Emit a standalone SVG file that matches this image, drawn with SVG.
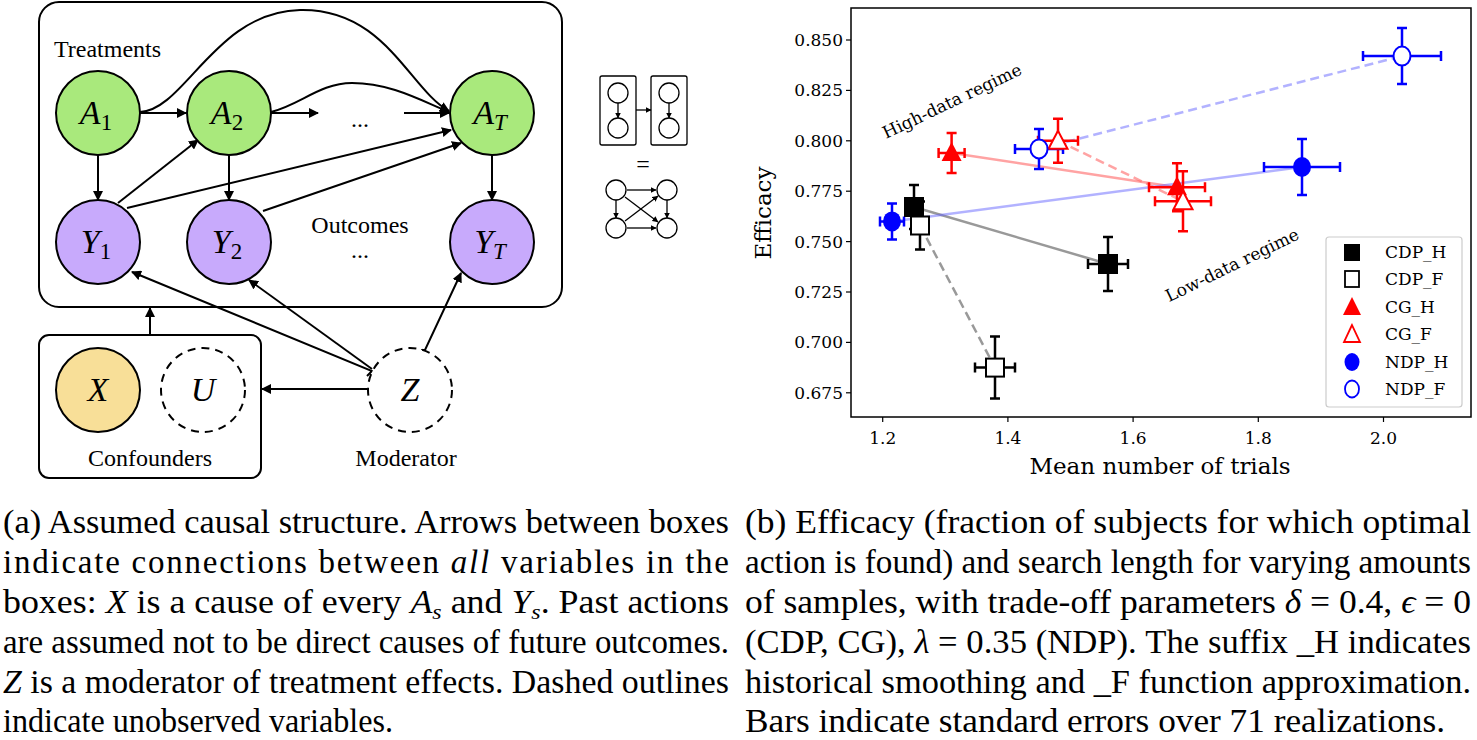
<svg xmlns="http://www.w3.org/2000/svg" width="1477" height="740" viewBox="0 0 1477 740">
<style>
.bx{fill:none;stroke:#000;stroke-width:2}
.n{stroke:#000;stroke-width:2}
.A{fill:#a9e97c}.Y{fill:#c8aafc}.X{fill:#f8df98}.D{fill:#fff;stroke-dasharray:8 6}
.lbl{font-family:"Liberation Serif","Times New Roman",Times,serif;font-style:italic;font-size:34px;text-anchor:middle}
.sub{font-size:23px;font-style:normal}
.tx{font-family:"Liberation Serif","Times New Roman",Times,serif;font-size:24px}
.e{stroke:#000;stroke-width:2;fill:none}
.s{stroke:#000;stroke-width:1.3;fill:none}
.tk{font-family:"DejaVu Serif",serif;font-size:17px}
.ax{font-family:"DejaVu Serif",serif;font-size:23px;text-anchor:middle}
.cap{font-family:"Liberation Serif","Times New Roman",Times,serif;font-size:33px}
.k{stroke:#000;stroke-width:2.5;fill:none}.r{stroke:#f00;stroke-width:2.5;fill:none}.b{stroke:#00f;stroke-width:2.5;fill:none}
</style>
<defs>
<marker id="ar" markerWidth="10" markerHeight="10" refX="9" refY="5" orient="auto" markerUnits="userSpaceOnUse"><path d="M0,0 L10,5 L0,10 z"/></marker>
<marker id="as" markerWidth="6" markerHeight="6" refX="5.5" refY="3" orient="auto" markerUnits="userSpaceOnUse"><path d="M0,0 L6,3 L0,6 z"/></marker>
</defs>
<rect fill="#fff" width="1477" height="740"/>

<rect id="treatbox" class="bx" x="39" y="2" width="523" height="305" rx="20"/>
<rect id="confbox" class="bx" x="39" y="335" width="222" height="143" rx="10"/>
<text class="tx" x="54" y="57">Treatments</text>
<text class="tx" x="360" y="233" text-anchor="middle">Outcomes</text>
<text class="tx" x="360" y="127" text-anchor="middle">...</text>
<text class="tx" x="360" y="258" text-anchor="middle">...</text>
<text class="tx" x="150" y="466" text-anchor="middle">Confounders</text>
<text class="tx" x="406" y="466" text-anchor="middle">Moderator</text>

<g id="connectors">
<path class="e" marker-end="url(#ar)" d="M140,112 C185,110 215,12 300,10 C385,8 410,90 449,111"/>
<path class="e" marker-end="url(#ar)" d="M271,112 C300,105 320,83 352,83 C390,83 420,100 449,112"/>
<line class="e" marker-end="url(#ar)" x1="140" y1="113" x2="186" y2="113"/>
<line class="e" marker-end="url(#ar)" x1="271" y1="113" x2="318" y2="113"/>
<line class="e" marker-end="url(#ar)" x1="404" y1="113" x2="449" y2="113"/>
<line class="e" marker-end="url(#ar)" x1="98" y1="155" x2="98" y2="200"/>
<line class="e" marker-end="url(#ar)" x1="229" y1="155" x2="229" y2="200"/>
<line class="e" marker-end="url(#ar)" x1="492" y1="155" x2="492" y2="200"/>
<line class="e" marker-end="url(#ar)" x1="118" y1="203" x2="198" y2="140"/>
<line class="e" marker-end="url(#ar)" x1="127" y1="208" x2="451" y2="130"/>
<line class="e" marker-end="url(#ar)" x1="263" y1="211" x2="461" y2="143"/>
<line class="e" marker-end="url(#ar)" x1="150" y1="335" x2="150" y2="308"/>
<line class="e" marker-end="url(#ar)" x1="367" y1="389" x2="262" y2="389"/>
<polyline class="e" marker-end="url(#ar)" points="367,376 372,371 132,272"/>
<line class="e" marker-end="url(#ar)" x1="372" y1="369" x2="249" y2="280"/>
<polyline class="e" marker-end="url(#ar)" points="421,350 425,350 461,273"/>
<line class="s" marker-end="url(#as)" x1="618" y1="103" x2="618" y2="118"/>
<line class="s" marker-end="url(#as)" x1="669" y1="103" x2="669" y2="118"/>
<line class="s" marker-end="url(#as)" x1="636" y1="110" x2="651" y2="110"/>
<line class="s" marker-end="url(#as)" x1="627" y1="190" x2="656" y2="190"/>
<line class="s" marker-end="url(#as)" x1="627" y1="228" x2="656" y2="228"/>
<line class="s" marker-end="url(#as)" x1="616" y1="200" x2="616" y2="218"/>
<line class="s" marker-end="url(#as)" x1="667" y1="200" x2="667" y2="218"/>
<line class="s" marker-end="url(#as)" x1="625" y1="197" x2="658" y2="222"/>
<line class="s" marker-end="url(#as)" x1="625" y1="221" x2="658" y2="196"/>
</g>

<g id="A1"><circle class="n A" cx="98" cy="113" r="42"/><text class="lbl" x="96" y="124">A<tspan class="sub" dy="6">1</tspan></text></g>
<g id="A2"><circle class="n A" cx="229" cy="113" r="42"/><text class="lbl" x="227" y="124">A<tspan class="sub" dy="6">2</tspan></text></g>
<g id="AT"><circle class="n A" cx="492" cy="113" r="42"/><text class="lbl" x="490" y="124">A<tspan class="sub" style="font-style:italic" dy="6">T</tspan></text></g>
<g id="Y1"><circle class="n Y" cx="98" cy="242" r="42"/><text class="lbl" x="96" y="253">Y<tspan class="sub" dy="6">1</tspan></text></g>
<g id="Y2"><circle class="n Y" cx="229" cy="242" r="42"/><text class="lbl" x="227" y="253">Y<tspan class="sub" dy="6">2</tspan></text></g>
<g id="YT"><circle class="n Y" cx="492" cy="242" r="42"/><text class="lbl" x="490" y="253">Y<tspan class="sub" style="font-style:italic" dy="6">T</tspan></text></g>
<g id="X"><circle class="n X" cx="98" cy="390" r="42"/><text class="lbl" x="98" y="401">X</text></g>
<g id="U"><circle class="n D" cx="203" cy="390" r="42"/><text class="lbl" x="203" y="401">U</text></g>
<g id="Z"><circle class="n D" cx="410" cy="390" r="42"/><text class="lbl" x="410" y="401">Z</text></g>

<g id="icon">
<rect class="s" x="600" y="76" width="36" height="69" rx="2"/>
<rect class="s" x="651" y="76" width="36" height="69" rx="2"/>
<circle class="s" cx="618" cy="93" r="10"/>
<circle class="s" cx="618" cy="128" r="10"/>
<circle class="s" cx="669" cy="93" r="10"/>
<circle class="s" cx="669" cy="128" r="10"/>
<text class="tx" x="643" y="172" text-anchor="middle" font-size="20">=</text>
<circle class="s" cx="616" cy="190" r="10"/>
<circle class="s" cx="667" cy="190" r="10"/>
<circle class="s" cx="616" cy="228" r="10"/>
<circle class="s" cx="667" cy="228" r="10"/>
</g>

<g id="plot">
<rect x="851" y="8" width="620" height="409" fill="none" stroke="#000" stroke-width="1.5"/>
<g stroke="#000" stroke-width="1.2">
<line x1="846" y1="40" x2="851" y2="40"/><line x1="846" y1="90.4" x2="851" y2="90.4"/><line x1="846" y1="140.8" x2="851" y2="140.8"/><line x1="846" y1="191.2" x2="851" y2="191.2"/><line x1="846" y1="241.6" x2="851" y2="241.6"/><line x1="846" y1="292" x2="851" y2="292"/><line x1="846" y1="342.4" x2="851" y2="342.4"/><line x1="846" y1="392.8" x2="851" y2="392.8"/>
<line x1="882.7" y1="417" x2="882.7" y2="422"/><line x1="1007.9" y1="417" x2="1007.9" y2="422"/><line x1="1133.1" y1="417" x2="1133.1" y2="422"/><line x1="1258.3" y1="417" x2="1258.3" y2="422"/><line x1="1383.5" y1="417" x2="1383.5" y2="422"/>
</g>
<g class="tk" text-anchor="end">
<text x="843" y="46">0.850</text><text x="843" y="96.4">0.825</text><text x="843" y="146.8">0.800</text><text x="843" y="197.2">0.775</text><text x="843" y="247.6">0.750</text><text x="843" y="298">0.725</text><text x="843" y="348.4">0.700</text><text x="843" y="398.8">0.675</text>
</g>
<g class="tk" text-anchor="middle">
<text x="882.7" y="444">1.2</text><text x="1007.9" y="444">1.4</text><text x="1133.1" y="444">1.6</text><text x="1258.3" y="444">1.8</text><text x="1383.5" y="444">2.0</text>
</g>
<text class="ax" x="1160" y="474">Mean number of trials</text>
<text class="ax" transform="translate(771,213) rotate(-90)">Efficacy</text>
<text class="tk" x="952" y="107" text-anchor="middle" transform="rotate(-25.5 952 101)">High-data regime</text>
<text class="tk" x="1232" y="271" text-anchor="middle" transform="rotate(-26 1232 265)">Low-data regime</text>

<g stroke-width="2.5">
<line x1="914" y1="207" x2="1108" y2="264" stroke="#999"/>
<line x1="920" y1="225.5" x2="995" y2="367.6" stroke="#999" stroke-dasharray="9 5"/>
<line x1="951.6" y1="152.9" x2="1177" y2="187.2" stroke="#f66" stroke-opacity="0.6"/>
<line x1="1058" y1="140.8" x2="1183" y2="201.3" stroke="#f66" stroke-opacity="0.6" stroke-dasharray="9 5"/>
<line x1="892" y1="221.4" x2="1302" y2="167" stroke="#66f" stroke-opacity="0.5"/>
<line x1="1039" y1="148.9" x2="1402" y2="56.1" stroke="#66f" stroke-opacity="0.5" stroke-dasharray="9 5"/>
</g>

<path class="k" d="M914,185V229M906,207H922M909,185H919M909,229H919"/>
<path class="k" d="M1108,237V291M1088,264H1128M1103,237H1113M1103,291H1113M1088,259V269M1128,259V269"/>
<path class="k" d="M920,201.5V249.5M914,225.5H926M915,201.5H925M915,249.5H925"/>
<path class="k" d="M995,336.6V398.6M975,367.6H1015M990,336.6H1000M990,398.6H1000M975,362.6V372.6M1015,362.6V372.6"/>
<path class="r" d="M951.6,132.9V172.9M938.6,152.9H964.6M946.6,132.9H956.6M946.6,172.9H956.6M938.6,147.9V157.9M964.6,147.9V157.9"/>
<path class="r" d="M1177,163.2V211.2M1149,187.2H1205M1172,163.2H1182M1172,211.2H1182M1149,182.2V192.2M1205,182.2V192.2"/>
<path class="r" d="M1058,118.8V162.8M1038,140.8H1078M1053,118.8H1063M1053,162.8H1063M1038,135.8V145.8M1078,135.8V145.8"/>
<path class="r" d="M1183,171.3V231.3M1155,201.3H1211M1178,171.3H1188M1178,231.3H1188M1155,196.3V206.3M1211,196.3V206.3"/>
<path class="b" d="M892,203.4V239.4M880,221.4H904M887,203.4H897M887,239.4H897M880,216.4V226.4M904,216.4V226.4"/>
<path class="b" d="M1302,139V195M1264,167H1340M1297,139H1307M1297,195H1307M1264,162V172M1340,162V172"/>
<path class="b" d="M1039,128.9V168.9M1015,148.9H1063M1034,128.9H1044M1034,168.9H1044M1015,143.9V153.9M1063,143.9V153.9"/>
<path class="b" d="M1402,28V84M1363,56H1441M1397,28H1407M1397,84H1407M1363,51V61M1441,51V61"/>

<rect x="904" y="197" width="20" height="20" fill="#000"/>
<rect x="1098" y="254" width="20" height="20" fill="#000"/>
<rect x="911" y="216.5" width="18" height="18" fill="#fff" stroke="#000" stroke-width="2"/>
<rect x="986" y="358.6" width="18" height="18" fill="#fff" stroke="#000" stroke-width="2"/>
<polygon points="951.6,141.9 941.6,160.9 961.6,160.9" fill="#f00"/>
<polygon points="1177,176.2 1167,195.2 1187,195.2" fill="#f00"/>
<polygon points="1058,130.8 1048.5,148.8 1067.5,148.8" fill="#fff" stroke="#f00" stroke-width="2"/>
<polygon points="1183,191.3 1173.5,209.3 1192.5,209.3" fill="#fff" stroke="#f00" stroke-width="2"/>
<ellipse cx="892" cy="221.4" rx="9" ry="10" fill="#00f"/>
<ellipse cx="1302" cy="167" rx="9" ry="10" fill="#00f"/>
<ellipse cx="1039" cy="148.9" rx="8.5" ry="9.5" fill="#fff" stroke="#00f" stroke-width="2"/>
<ellipse cx="1402" cy="56.1" rx="8.5" ry="9.5" fill="#fff" stroke="#00f" stroke-width="2"/>

<rect x="1326" y="237" width="136" height="170" rx="3" fill="#fff" stroke="#ccc" stroke-width="1.2"/>
<rect x="1344" y="244" width="16" height="17" fill="#000"/>
<rect x="1345" y="271" width="14" height="16" fill="#fff" stroke="#000" stroke-width="1.8"/>
<polygon points="1352,297 1343,315 1361,315" fill="#f00"/>
<polygon points="1352,325 1344,342 1360,342" fill="#fff" stroke="#f00" stroke-width="1.8"/>
<ellipse cx="1352" cy="362" rx="7.5" ry="9" fill="#00f"/>
<ellipse cx="1352" cy="389" rx="7" ry="8.5" fill="#fff" stroke="#00f" stroke-width="1.8"/>
<g class="tk" font-size="18">
<text x="1385" y="258">CDP_H</text><text x="1385" y="285">CDP_F</text><text x="1385" y="313">CG_H</text><text x="1385" y="340">CG_F</text><text x="1385" y="368">NDP_H</text><text x="1385" y="395">NDP_F</text>
</g>
</g>

<g class="cap">
<text x="3" y="533" textLength="726" lengthAdjust="spacingAndGlyphs">(a) Assumed causal structure.  Arrows between boxes</text>
<text x="3" y="573" textLength="726" lengthAdjust="spacing">indicate connections between <tspan font-style="italic">all</tspan> variables in the</text>
<text x="3" y="613" textLength="726" lengthAdjust="spacingAndGlyphs">boxes: <tspan font-style="italic">X</tspan> is a cause of every <tspan font-style="italic">A<tspan font-size="22" dy="6">s</tspan></tspan><tspan dy="-6"> and </tspan><tspan font-style="italic">Y<tspan font-size="22" dy="6">s</tspan></tspan><tspan dy="-6">. Past actions</tspan></text>
<text x="3" y="653" textLength="726" lengthAdjust="spacingAndGlyphs">are assumed not to be direct causes of future outcomes.</text>
<text x="3" y="693" textLength="726" lengthAdjust="spacingAndGlyphs"><tspan font-style="italic">Z</tspan> is a moderator of treatment effects.  Dashed outlines</text>
<text x="3" y="732" textLength="390" lengthAdjust="spacingAndGlyphs">indicate unobserved variables.</text>
<text x="745" y="533" textLength="726" lengthAdjust="spacingAndGlyphs">(b)  Efficacy (fraction of subjects for which optimal</text>
<text x="745" y="573" textLength="726" lengthAdjust="spacingAndGlyphs">action is found) and search length for varying amounts</text>
<text x="745" y="613" textLength="726" lengthAdjust="spacingAndGlyphs">of samples, with trade-off parameters <tspan font-style="italic">δ</tspan> = 0.4, <tspan font-style="italic">ϵ</tspan> = 0</text>
<text x="745" y="653" textLength="726" lengthAdjust="spacingAndGlyphs">(CDP, CG), <tspan font-style="italic">λ</tspan> = 0.35 (NDP). The suffix _H indicates</text>
<text x="745" y="693" textLength="726" lengthAdjust="spacingAndGlyphs">historical smoothing and _F function approximation.</text>
<text x="745" y="732" textLength="700" lengthAdjust="spacingAndGlyphs">Bars indicate standard errors over 71 realizations.</text>
</g>
</svg>
